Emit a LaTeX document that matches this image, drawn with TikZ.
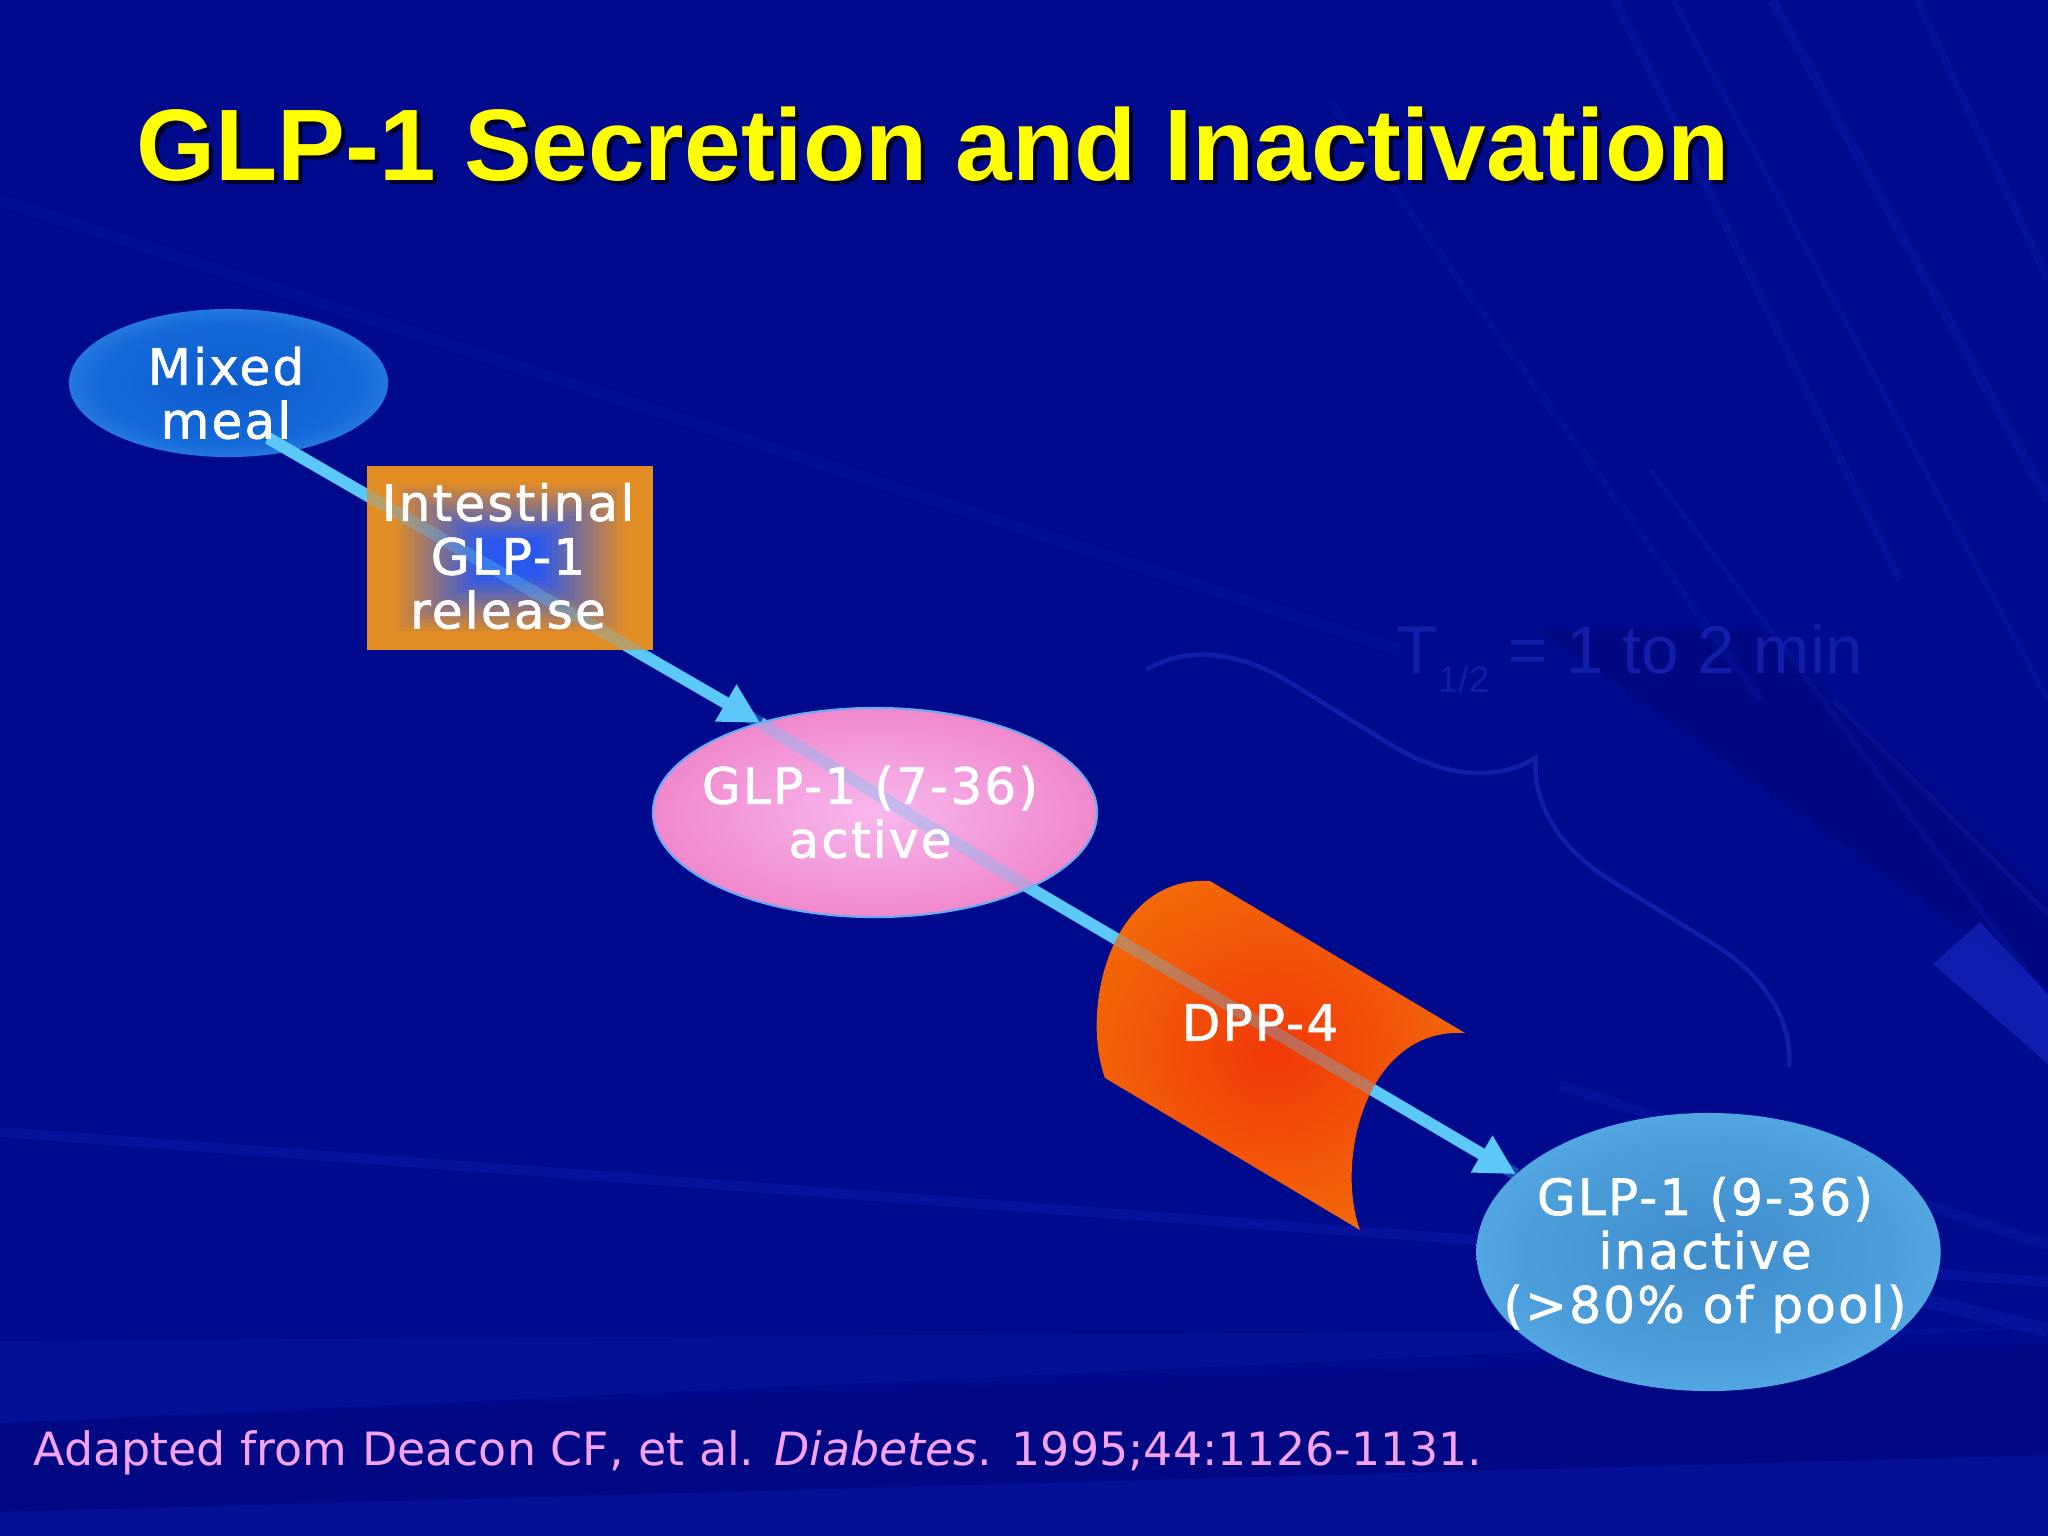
\documentclass[tikz,border=0pt]{standalone}
\usepackage{fontspec}
\setmainfont{DejaVu Sans}
\newfontfamily\nodefont{DejaVu Sans}[LetterSpace=4.5,FakeBold=1.4]
\newfontfamily\titlefont{Liberation Sans}
\usetikzlibrary{shapes.geometric,arrows.meta,decorations.pathreplacing,calc}

\pgfdeclarelayer{bglayer}
\pgfdeclarelayer{connlayer}
\pgfdeclarelayer{overlayer}
\pgfsetlayers{bglayer,connlayer,main,overlayer}

\definecolor{bg}{RGB}{0,10,140}
\definecolor{beamc}{RGB}{30,45,205}
\definecolor{darkc}{RGB}{0,0,70}
\definecolor{linec}{RGB}{92,200,250}
\definecolor{titley}{RGB}{255,255,0}
\definecolor{footc}{RGB}{246,162,244}
\definecolor{faintc}{RGB}{18,30,170}
\definecolor{pinkedge}{RGB}{105,170,240}
\definecolor{boxorange}{RGB}{226,140,36}
\definecolor{boxblue}{RGB}{42,88,238}

\pgfdeclareradialshading{mealshade}{\pgfpoint{0bp}{0bp}}{rgb(0bp)=(0.05,0.36,0.80); rgb(20bp)=(0.08,0.41,0.85); rgb(41bp)=(0.33,0.66,0.94); rgb(50bp)=(0.37,0.71,0.96); rgb(72bp)=(0.37,0.71,0.96)}
\pgfdeclareradialshading{pinkshade}{\pgfpoint{0bp}{0bp}}{rgb(0bp)=(0.97,0.72,0.93); rgb(16bp)=(0.95,0.60,0.85); rgb(40bp)=(0.93,0.42,0.72); rgb(50bp)=(0.93,0.39,0.70); rgb(72bp)=(0.93,0.39,0.70)}
\pgfdeclareradialshading{inactshade}{\pgfpoint{0bp}{0bp}}{rgb(0bp)=(0.25,0.55,0.80); rgb(20bp)=(0.30,0.62,0.86); rgb(44bp)=(0.39,0.76,0.96); rgb(50bp)=(0.40,0.78,0.97); rgb(72bp)=(0.40,0.78,0.97)}
\pgfdeclareradialshading{dppshade}{\pgfpoint{0bp}{0bp}}{rgb(0bp)=(0.95,0.22,0.03); rgb(22bp)=(0.95,0.38,0.03); rgb(48bp)=(0.96,0.54,0.0); rgb(72bp)=(0.96,0.58,0.0)}

\tikzset{
  beam/.style={draw=beamc, line cap=butt},
  shapebox/.style={inner sep=0pt, outer sep=0pt, shade},
  lbl/.style={text=white, align=center, inner sep=0pt,
    font=\nodefont\fontsize{14.2}{15.3}\selectfont},
  conn/.style={draw=linec, line width=0.12cm, -{Triangle[length=0.40cm,width=0.40cm]}},
  connplain/.style={draw=linec, line width=0.12cm},
  connover/.style={draw=linec, line width=0.12cm, draw opacity=0.32},
}

\begin{document}
\begin{tikzpicture}[x=0.01cm, y=-0.01cm]
\useasboundingbox (0,0) rectangle (2048,1536);
\begin{pgfonlayer}{bglayer}
% background
\fill[bg] (0,0) rectangle (2048,1536);
\fill[darkc, opacity=0.15] (1540,630) -- (1760,630) -- (2048,900) -- (2048,990) -- cycle;
\fill[darkc, opacity=0.10] (0,1423) -- (2048,1345) -- (2048,1455) -- (0,1512) -- cycle;
\fill[beamc, opacity=0.18] (0,1341) -- (2048,1328) -- (0,1423) -- cycle;
\fill[beamc, opacity=0.18] (0,1512) -- (2048,1455) -- (2048,1536) -- (0,1536) -- cycle;
\fill[beamc, opacity=0.55] (1933,964) -- (1980,922) -- (2048,995) -- (2048,1064) -- cycle;
\draw[beam, line width=0.08cm, opacity=0.22] (1615,0) -- (1900,580);
\draw[beam, line width=0.06cm, opacity=0.20] (1673,0) -- (2048,700);
\draw[beam, line width=0.10cm, opacity=0.22] (1772,0) -- (2048,500);
\draw[beam, line width=0.08cm, opacity=0.20] (1917,0) -- (2048,280);
\draw[beam, line width=0.08cm, opacity=0.16] (1330,100) -- (1760,700);
\draw[beam, line width=0.06cm, opacity=0.18] (1650,470) -- (2048,1000);
\draw[beam, line width=0.06cm, opacity=0.22] (1833,700) -- (2048,914);
\draw[beam, line width=0.12cm, opacity=0.10] (0,200) -- (1400,650);
\draw[beam, line width=0.10cm, opacity=0.25] (0,1132) -- (2048,1282);
\draw[beam, line width=0.14cm, opacity=0.25] (1880,1290) -- (2048,1330);
\draw[beam, line width=0.10cm, opacity=0.20] (1560,1085) -- (2048,1245);

% faint half-life annotation
\node[text=faintc, anchor=base west, inner sep=0pt,
  font=\titlefont\fontsize{19.2}{19.2}\selectfont] (thalf) at (1396,673)
  {T\raisebox{-0.55ex}{\fontsize{10.5}{10.5}\selectfont 1/2} = 1 to 2 min};
\coordinate (bs) at (1146,670);
\coordinate (be) at (1789,1067);
\draw[faintc, line width=1.3pt, decorate, decoration={brace, amplitude=1.3cm}] (bs) -- (be);

% first node, under the connector
\node[shapebox, ellipse, shading=mealshade, minimum width=3.19cm, minimum height=1.48cm] (meal) at (228.5,383) {};
\end{pgfonlayer}

% title
\node[text=black!85!blue, anchor=base west, inner sep=0pt,
  font=\titlefont\bfseries\fontsize{28.9}{28.9}\selectfont] (titleshadow) at (140,184)
  {GLP-1 Secretion and Inactivation};
\node[text=titley, anchor=base west, inner sep=0pt,
  font=\titlefont\bfseries\fontsize{28.9}{28.9}\selectfont] (title) at (136,180)
  {GLP-1 Secretion and Inactivation};

% shapes
\coordinate (mstart) at (268,438);
\node[rectangle, inner sep=0pt, outer sep=0pt, fill=boxorange, minimum width=2.85cm, minimum height=1.84cm] (rel) at (510,558) {};
\foreach \i in {1,...,24}{
  \pgfmathsetmacro{\t}{\i/24}
  \pgfmathsetmacro{\p}{max(0,min(100,(\t-0.16)/0.62*100))}
  \fill[boxblue!\p!boxorange] ($(rel.center)+({-142.5*(1-\t)},{-92*(1-\t)})$)
    rectangle ($(rel.center)+({142.5*(1-\t)},{92*(1-\t)})$);
}
\node[shapebox, ellipse, shading=pinkshade, draw=pinkedge, line width=0.6pt, minimum width=4.44cm, minimum height=2.09cm] (act) at (875,812.5) {};
\node[shapebox, ellipse, shading=inactshade, minimum width=4.64cm, minimum height=2.78cm] (inact) at (1708.5,1252) {};
\shade[shading=dppshade] (1210,881) .. controls (1110,875) and (1080,1010) .. (1105,1078)
  -- (1360,1230) .. controls (1335,1162) and (1365,1027) .. (1465,1033) -- cycle;

% connectors, below the shapes
\begin{pgfonlayer}{connlayer}
\draw[conn] (mstart) -- (act.142);
\draw[connplain] (act.142) -- (act.-26);
\draw[conn] (act.-26) -- (inact.158);
\end{pgfonlayer}

% translucent connector overlay and labels
\begin{pgfonlayer}{overlayer}
\draw[connover] (mstart) -- (act.142) -- (act.-26) -- (inact.158);
\node[lbl] (mealt) at (226,393) {Mixed\\meal};
\node[lbl] (relt) at (508,556) {Intestinal\\GLP-1\\release};
\node[lbl] (actt) at (870,812) {GLP-1 (7-36)\\active};
\node[lbl] (dpp) at (1260,1022.5) {DPP-4};
\node[lbl] (inactt) at (1705,1255) {GLP-1 (9-36)\\inactive\\(>80\% of pool)};
\node[text=footc, anchor=base west, inner sep=0pt, font=\fontsize{13.05}{13.05}\selectfont] (foot) at (33,1465)
  {Adapted from Deacon CF, et al. \textit{Diabetes}. 1995;44:1126-1131.};
\end{pgfonlayer}
\end{tikzpicture}
\end{document}
